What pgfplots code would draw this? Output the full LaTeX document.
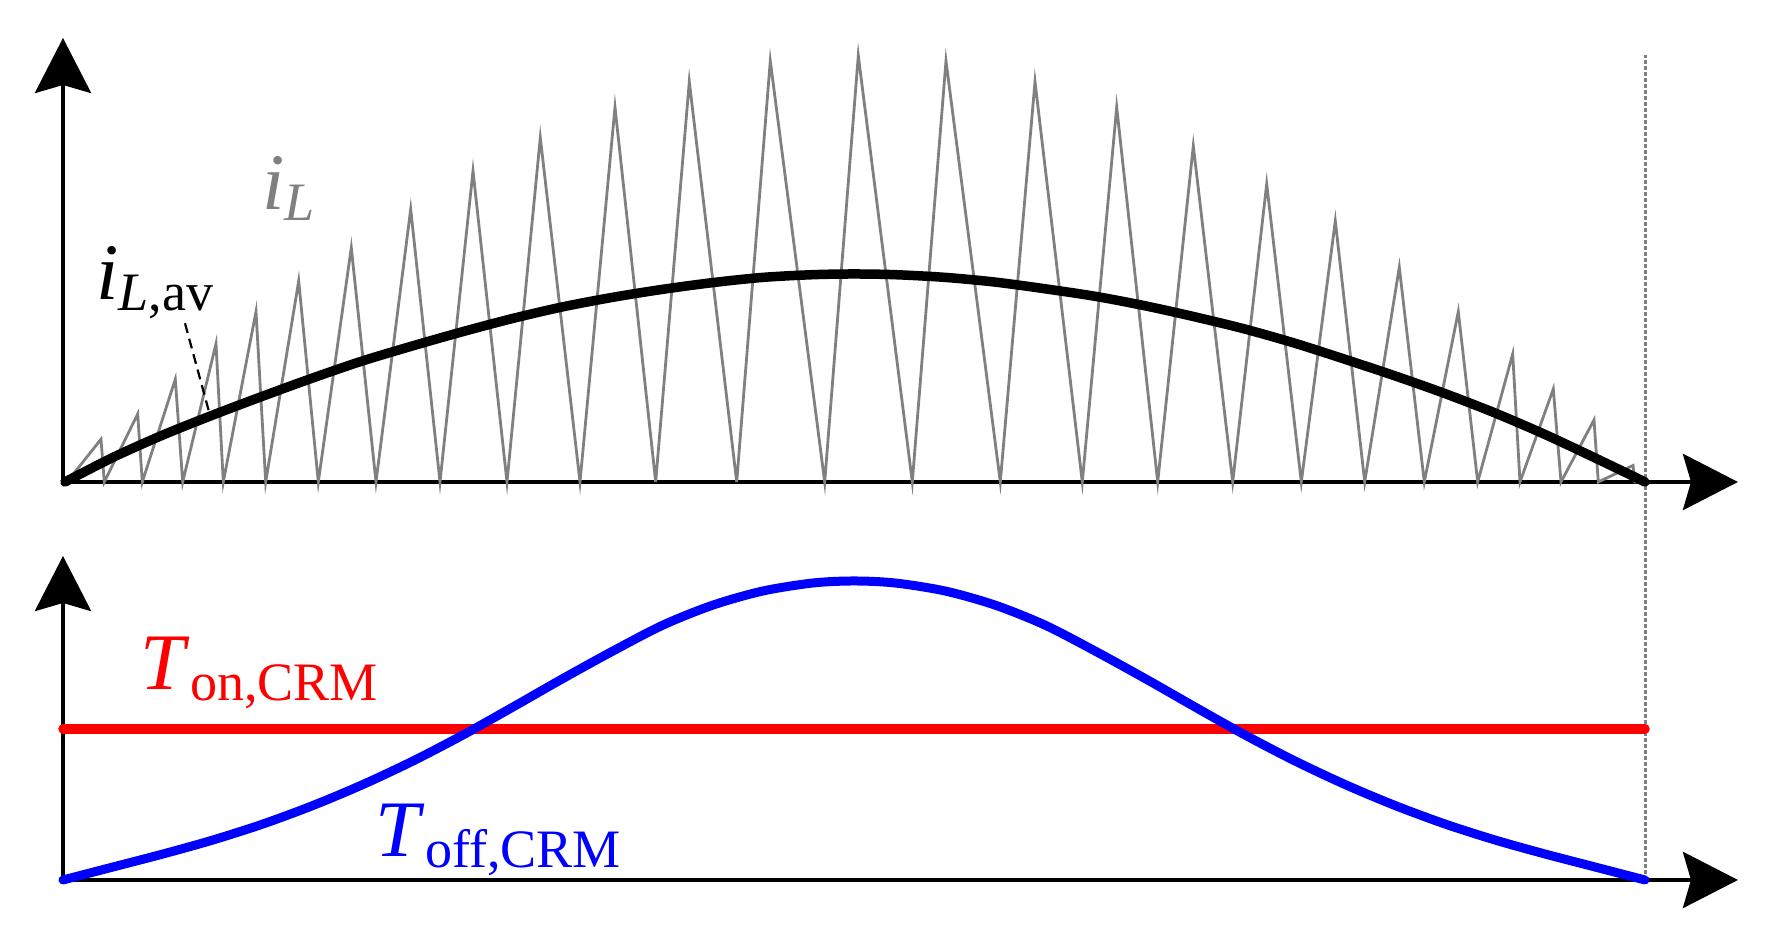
\documentclass[border=0pt]{standalone}
\usepackage{fontspec}
\setmainfont{Liberation Serif}
\usepackage{pgfplots}
\pgfplotsset{compat=1.18}
\usetikzlibrary{arrows.meta}

\newcommand{\sub}[1]{\raisebox{-1.1mm}{\fontsize{15.4}{18}\selectfont #1}}
\newcommand{\lbl}[2]{\fontsize{22.8}{27}\selectfont\textit{#1}\sub{#2}}

\begin{document}
\begin{tikzpicture}
\path[use as bounding box] (0,0) rectangle (177.4mm,93.6mm);
\pgfplotsset{myax/.style={scale only axis, axis lines=left, xmin=0, xmax=1675, ymin=0,
  width=167.5mm, ticks=none, clip=false, enlargelimits=false,
  axis line style={line width=0.45mm, -{Stealth[length=5.5mm,width=5.6mm,inset=0.8mm]}}}}

% ---------- lower axis ----------
\begin{axis}[myax, at={(6.3mm,5.6mm)}, anchor=south west, ymax=324, height=32.4mm]
\addplot[gray, line width=0.3mm, dash pattern=on 0.35mm off 0.25mm] coordinates {(1582,0) (1582,825)};
\addplot[red, line width=0.95mm, line cap=round] coordinates {(0,151) (1582,151)};
\addplot[blue, line width=0.9mm, line cap=round, smooth] coordinates {
(0,0) (50,13) (100,26) (150,40) (200,56) (250,74.5) (300,95.5) (350,119) (400,145)
(450,173) (500,201.5) (550,229) (600,254.9) (650,274.9) (700,289) (750,297) (791,299)
(832,297) (882,289) (932,274.9) (982,254.9) (1032,229) (1082,201.5) (1132,173)
(1182,145) (1232,119) (1282,95.5) (1332,74.5) (1382,56) (1432,40) (1482,26)
(1532,13) (1582,0)};
\node[red, anchor=base west, inner sep=0] at (axis cs:77,190) {\lbl{T}{on,CRM}};
\node[blue, anchor=base west, inner sep=0] at (axis cs:312,23) {\lbl{T}{off,CRM}};
\end{axis}

% ---------- upper axis ----------
\begin{axis}[myax, at={(6.3mm,45.4mm)}, anchor=south west, ymax=444, height=44.4mm]
\addplot[gray, line width=0.28mm] coordinates {
(4,0) (38,42.7) (41.3,0) (74.7,68) (79.3,0) (112.3,102.7) (119.7,0) (153,138.3)
(160.3,0) (193,170.3) (202.7,0) (235.7,201) (255.3,0) (288.3,234.3) (313,0)
(347.7,272.7) (377,0) (410,311) (444,0) (477.3,344.3) (517,0) (552,374.7)
(592.7,0) (626.3,400.3) (673.7,0) (707.3,421) (761.7,0) (795.3,426.3) (849.3,0)
(883,421) (937.3,0) (972,400.3) (1019.3,0) (1053.7,374.7) (1094.7,0) (1130.3,336)
(1169.7,0) (1203.7,298) (1238.3,0) (1272.3,261) (1301.7,0) (1336.3,214.7)
(1361.3,0) (1395.3,170.3) (1414.7,0) (1449.7,128) (1457,0) (1490.3,93) (1498,0)
(1531,62) (1535.3,0) (1570,16.5) (1572,0) (1582,0)};
\addplot[black, line width=0.95mm, line cap=round, smooth] coordinates {
(2,0) (50,24.6) (100,47.0) (150,67.0) (200,85.9) (250,104.1) (300,121.2)
(350,136.2) (400,150.4) (450,163.6) (500,175.2) (550,184.7) (600,192.7)
(650,199.4) (700,204.6) (750,207.3) (791,208) (832,207.3) (882,204.6)
(932,199.9) (982,193.2) (1032,185.7) (1082,176.2) (1132,165.1) (1182,152.9)
(1232,138.7) (1282,122.7) (1332,106.1) (1382,88.4) (1432,69.0) (1482,47.5)
(1532,24.1) (1582,0)};
\addplot[black, line width=0.22mm, dash pattern=on 1mm off 0.6mm] coordinates {(122,158.7) (146,70.3)};
\node[gray, anchor=base west, inner sep=0] at (axis cs:199,272) {\lbl{i}{\textit{L}}};
\node[black, anchor=base west, inner sep=0] at (axis cs:32.5,182.7) {\lbl{i}{\textit{L},av}};
\end{axis}
\end{tikzpicture}
\end{document}
